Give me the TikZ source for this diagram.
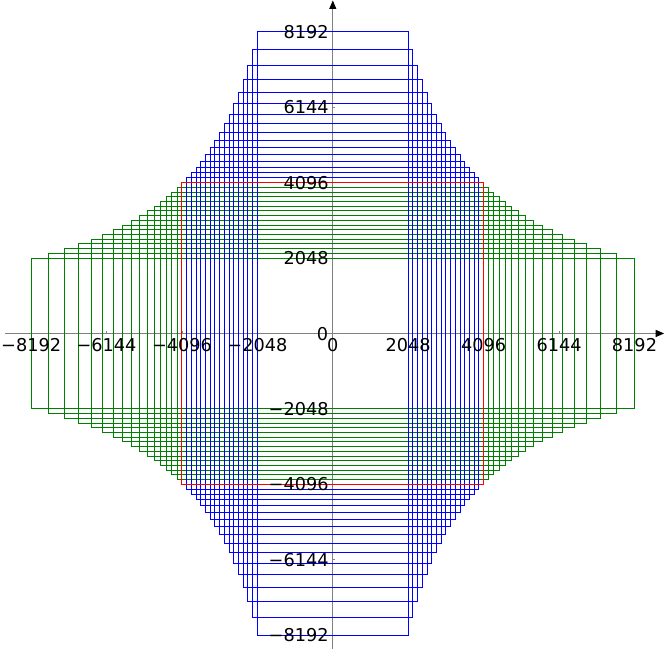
\documentclass[tikz,border=0pt]{standalone}
\usepackage{fontspec}
\setmainfont{DejaVu Sans}
\usetikzlibrary{arrows.meta}
\definecolor{rblue}{RGB}{0,0,255}
\definecolor{rgreen}{RGB}{0,128,0}
\definecolor{rred}{RGB}{255,0,0}
\definecolor{axgray}{RGB}{128,128,128}
\begin{document}
\begin{tikzpicture}[x=4.7142pt,y=4.7142pt,
  rectline/.style={line width=1pt},
  axisline/.style={draw=axgray,line width=1pt},
  axisarrow/.style={axisline,-{Triangle[length=8.5pt,width=7pt,color=black]}},
  tickline/.style={draw=axgray,line width=0.8pt},
  xlbl/.style={anchor=north,inner sep=0pt,font=\fontsize{17.7}{20}\selectfont},
  ylbl/.style={anchor=east,inner sep=0pt,font=\fontsize{17.7}{20}\selectfont}]
\useasboundingbox (-70.60,-66.93) rectangle (70.47,70.74);
% axes
\coordinate (xs) at (-69.53,0);
\coordinate (xe) at (70.3,0);
\coordinate (ys) at (0,-66.93);
\coordinate (ye) at (0,70.64);
\draw[axisarrow] (xs) -- (xe);
\draw[axisarrow] (ys) -- (ye);
% ticks
\foreach \t in {-64,-48,-32,-16,16,32,48,64}{
  \draw[tickline] (\t,0) -- (\t,0.45);
  \draw[tickline] (0,\t) -- (0.45,\t);
}
% green rectangles
\foreach \k in {0,...,15}{
  \pgfmathsetmacro{\hh}{16+\k}
  \pgfmathsetmacro{\ww}{1024/(16+\k)}
  \draw[rectline,rgreen] (-\ww,-\hh) rectangle (\ww,\hh);
}
% blue rectangles
\foreach \k in {0,...,15}{
  \pgfmathsetmacro{\ww}{16+\k}
  \pgfmathsetmacro{\hh}{1024/(16+\k)}
  \draw[rectline,rblue] (-\ww,-\hh) rectangle (\ww,\hh);
}
% red square
\draw[rectline,rred] (-32,-32) rectangle (32,32);
% x labels
\node[xlbl] (xm64) at (-64,-1.06) {−8192};
\node[xlbl] (xm48) at (-48,-1.06) {−6144};
\node[xlbl] (xm32) at (-32,-1.06) {−4096};
\node[xlbl] (xm16) at (-16,-1.06) {−2048};
\node[xlbl] (x0) at (0,-1.06) {0};
\node[xlbl] (xp16) at (16,-1.06) {2048};
\node[xlbl] (xp32) at (32,-1.06) {4096};
\node[xlbl] (xp48) at (48,-1.06) {6144};
\node[xlbl] (xp64) at (64,-1.06) {8192};
% y labels
\node[ylbl] (yp64) at (-0.85,64) {8192};
\node[ylbl] (yp48) at (-0.85,48) {6144};
\node[ylbl] (yp32) at (-0.85,32) {4096};
\node[ylbl] (yp16) at (-0.85,16) {2048};
\node[ylbl] (y0) at (-0.95,-0.1) {0};
\node[ylbl] (ym16) at (-0.85,-16) {−2048};
\node[ylbl] (ym32) at (-0.85,-32) {−4096};
\node[ylbl] (ym48) at (-0.85,-48) {−6144};
\node[ylbl] (ym64) at (-0.85,-64) {−8192};
\end{tikzpicture}
\end{document}
